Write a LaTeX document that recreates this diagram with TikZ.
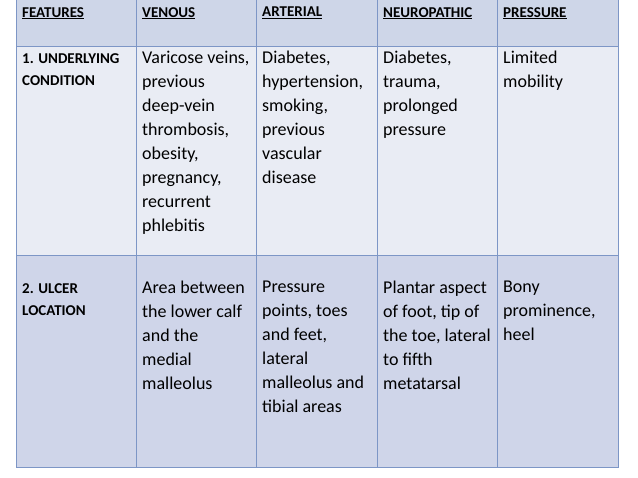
\documentclass[tikz,border=0pt]{standalone}
\usepackage{fontspec}
\setmainfont{Carlito}
\begin{document}
\begin{tikzpicture}[x=1pt,y=-1pt,
 hd/.style={anchor=north west,inner sep=0pt,font=\fontsize{15}{18}\selectfont\bfseries,execute at begin node={\vphantom{Ay}}},
 lb/.style={anchor=north west,inner sep=0pt,align=left,font=\fontsize{15}{22}\selectfont\bfseries,execute at begin node={\vphantom{Ay}}},
 bd/.style={anchor=north west,inner sep=0pt,align=left,font=\fontsize{18}{24}\selectfont,execute at begin node={\vphantom{Ay}}}]
\useasboundingbox (0,0) rectangle (638,478);
\fill[fill={rgb,255:red,206;green,214;blue,232}] (16,0) rectangle (618,46);
\fill[fill={rgb,255:red,233;green,236;blue,244}] (16,46) rectangle (618,255);
\fill[fill={rgb,255:red,207;green,213;blue,233}] (16,255) rectangle (618,467);
\draw[draw={rgb,255:red,125;green,150;blue,198},line width=0.8pt]
 (16,0) -- (16,467) -- (618,467) -- (618,0)
 (16,46) -- (618,46) (16,255) -- (618,255)
 (136,0) -- (136,467) (256,0) -- (256,467) (377,0) -- (377,467) (497,0) -- (497,467);
\node[hd] (h1) at (22,7) {\underline{FEATURES}};
\node[hd] (h2) at (142,7) {\underline{VENOUS}};
\node[hd] (h3) at (262,7) {\underline{ARTERIAL}};
\node[hd] (h4) at (383,7) {\underline{NEUROPATHIC}};
\node[hd] (h5) at (503,7) {\underline{PRESSURE}};
\node[lb] (r1) at (22,53) {1. UNDERLYING\\CONDITION};
\node[bd] (a1) at (142,51) {Varicose veins,\\previous\\deep-vein\\thrombosis,\\obesity,\\pregnancy,\\recurrent\\phlebitis};
\node[bd] (a2) at (262,51) {Diabetes,\\hypertension,\\smoking,\\previous\\vascular\\disease};
\node[bd] (a3) at (383,51) {Diabetes,\\trauma,\\prolonged\\pressure};
\node[bd] (a4) at (503,51) {Limited\\mobility};
\node[lb] (r2) at (22,283) {2. ULCER\\LOCATION};
\node[bd] (b1) at (142,281) {Area between\\the lower calf\\and the\\medial\\malleolus};
\node[bd] (b2) at (262,281) {Pressure\\points, toes\\and feet,\\lateral\\malleolus and\\tibial areas};
\node[bd] (b3) at (383,281) {Plantar aspect\\of foot, tip of\\the toe, lateral\\to fifth\\metatarsal};
\node[bd] (b4) at (503,281) {Bony\\prominence,\\heel};
\end{tikzpicture}
\end{document}
